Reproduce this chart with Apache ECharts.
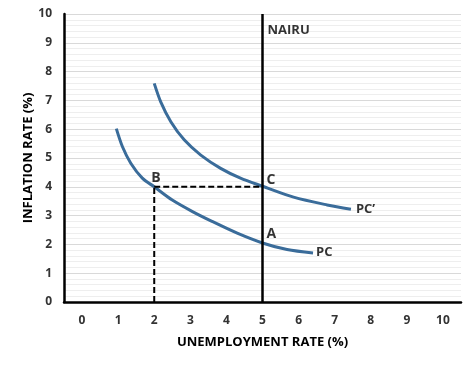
<!DOCTYPE html>
<html><head><meta charset="utf-8">
<script src="https://cdn.jsdelivr.net/npm/echarts@6/dist/echarts.min.js"></script>
<style>html,body{margin:0;padding:0;background:#fff}#c{width:474px;height:365px}</style>
</head><body><div id="c"></div>
<script>
const xTickLabels = ['0','1','2','3','4','5','6','7','8','9','10'];
const yTicks = [0,10];
const pcCurve = [[0.95,6.02],[1.12,5.39],[1.35,4.82],[1.67,4.3],[2,4.0],[2.5,3.54],[3.06,3.14],[3.6,2.8],[4.3,2.39],[5,2.05],[5.68,1.82],[6.4,1.7]];
const pcPrimeCurve = [[2,7.59],[2.18,6.95],[2.46,6.26],[2.83,5.63],[3.29,5.1],[3.84,4.64],[4.39,4.3],[5,4.02],[5.86,3.64],[6.79,3.37],[7.45,3.22]];
const nairuLine = [[5,0],[5,10]];
const dashH = [[2,4],[5,4]];
const dashV = [[2,0],[2,4]];
const pointA = [5,2.05], pointB = [2,4], pointC = [5,4];

const font = '"Open Sans", "Liberation Sans", sans-serif';
const chart = echarts.init(document.getElementById('c'));
function txt(name, pt, off, size) {
  return {type:'scatter', xAxisIndex:1, symbolSize:0, silent:true, z:5,
    data:[pt], label:{show:true, formatter:name, position:off,
    color:'#000', fontWeight:'bold', fontSize:size, fontFamily:font}};
}
chart.setOption({
  animation:false,
  grid:{left:64,right:13,top:14,bottom:63},
  xAxis:[
    {type:'category', data:xTickLabels, boundaryGap:true,
     name:'UNEMPLOYMENT RATE (%)', nameLocation:'middle', nameGap:34,
     nameTextStyle:{color:'#000',fontWeight:'bold',fontSize:13,fontFamily:font},
     axisLine:{lineStyle:{color:'#000',width:2.5}}, axisTick:{show:false},
     axisLabel:{color:'#333',fontWeight:'bold',fontSize:12,fontFamily:font,margin:13}},
    {type:'value', min:-0.5, max:10.5, show:false}
  ],
  yAxis:{type:'value', min:yTicks[0], max:yTicks[1], interval:1,
    name:'INFLATION RATE (%)', nameLocation:'middle', nameGap:29, nameMoveOverlap:false,
    nameTextStyle:{color:'#000',fontWeight:'bold',fontSize:13,fontFamily:font},
    axisLine:{show:true,onZero:false,lineStyle:{color:'#000',width:2.5}}, axisTick:{show:false},
    axisLabel:{color:'#333',fontWeight:'bold',fontSize:12,fontFamily:font,margin:12},
    splitLine:{lineStyle:{color:'#d9d9d9',width:1}},
    minorTick:{show:false,splitNumber:5},
    minorSplitLine:{show:true,lineStyle:{color:'#eeeeee',width:1}}},
  series:[
    {type:'line', xAxisIndex:1, data:pcCurve, smooth:0.3, symbol:'none',
     lineStyle:{color:'#3a6c9a',width:3}},
    {type:'line', xAxisIndex:1, data:pcPrimeCurve, smooth:0.3, symbol:'none',
     lineStyle:{color:'#3a6c9a',width:3}},
    {type:'line', xAxisIndex:1, data:nairuLine, symbol:'none', z:3,
     lineStyle:{color:'#000',width:2.5}},
    {type:'line', xAxisIndex:1, data:dashH, symbol:'none',
     lineStyle:{color:'#000',width:2,type:[6,3]}},
    {type:'line', xAxisIndex:1, data:dashV, symbol:'none',
     lineStyle:{color:'#000',width:2,type:[6,3]}},
    txt('NAIRU', [5,10], [5,10], 13),
    txt('PC', pcCurve[pcCurve.length-1], [3,-7], 13),
    txt('PC\u2019', pcPrimeCurve[pcPrimeCurve.length-1], [5,-6], 13),
    txt('A', pointA, [4,-16], 14),
    txt('B', pointB, [-3,-16], 14),
    txt('C', pointC, [4,-14], 14)
  ]
});
</script></body></html>
